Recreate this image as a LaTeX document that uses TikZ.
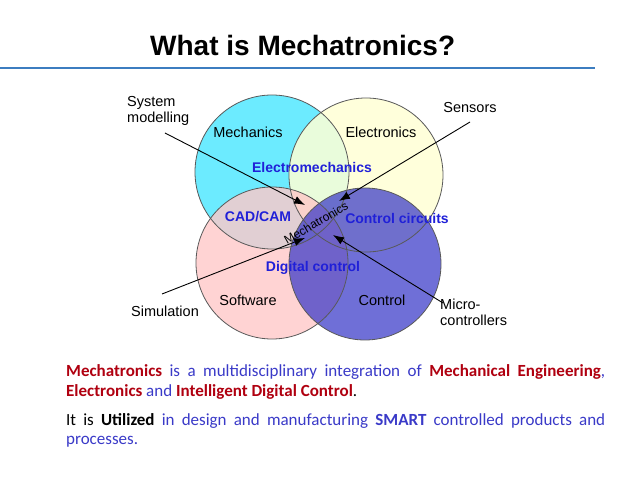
\documentclass[tikz,border=0pt]{standalone}
\usepackage{fontspec}
\setmainfont{Carlito}
\newfontfamily\arialf{Liberation Sans}
\usetikzlibrary{arrows.meta}
\definecolor{cyanc}{HTML}{6CEBFF}
\definecolor{yellowc}{HTML}{FFFFD5}
\definecolor{pinkc}{HTML}{FFC8C8}
\definecolor{bluec}{HTML}{3333C7}
\definecolor{lblblue}{HTML}{2020D8}
\definecolor{txtred}{HTML}{B00010}
\definecolor{txtblue}{HTML}{3A3AC8}
\definecolor{rulec}{HTML}{3C7DC0}
\begin{document}
\begin{tikzpicture}[x=1pt,y=-1pt,
  ring/.style={draw=black!65,line width=0.8pt},
  lbl/.style={font=\arialf\fontsize{14.5}{16}\selectfont,inner sep=0pt,text=black},
  blbl/.style={inner sep=0pt,font=\arialf\bfseries\fontsize{14}{16}\selectfont,text=lblblue},
  side/.style={lbl,align=left},
  pointer/.style={draw=black,line width=0.9pt,-{Latex[length=11pt,width=8pt]}},
  para/.style={anchor=base west,inner sep=0pt,font=\fontsize{17}{20}\selectfont}]
\useasboundingbox (0,0) rectangle (638,478);
\fill[white] (0,0) rectangle (638,478);
% title
\node[anchor=base west,inner sep=0pt,font=\arialf\bfseries\fontsize{28}{30}\selectfont] (title) at (150,56) {What is Mechatronics?};
\draw[rulec,line width=1.8pt] (0,68) -- (595,68);
% circles
\fill[cyanc] (272,172) circle (77);
\fill[yellowc,opacity=0.85] (366,175) circle (77);
\fill[pinkc,opacity=0.8] (272,263) circle (76);
\fill[bluec,opacity=0.7] (365,264) circle (76);
\draw[ring] (272,172) circle (77);
\draw[ring] (366,175) circle (77);
\draw[ring] (272,263) circle (76);
\draw[ring] (365,264) circle (76);
% labels in circles
\node[lbl] (mech) at (248,132) {Mechanics};
\node[lbl] (elec) at (381,132) {Electronics};
\node[blbl] (emech) at (312,167) {Electromechanics};
\node[blbl] (cadcam) at (258,217) {CAD/CAM};
\node[blbl] (ccirc) at (397,218) {Control circuits};
\node[blbl] (digc) at (313,268) {Digital control};
\node[lbl] (soft) at (248,300) {Software};
\node[lbl] (ctrl) at (382,300) {Control};
\node[lbl,font=\arialf\fontsize{12}{14}\selectfont,rotate=30] (mtr) at (316,223) {Mechatronics};
% side labels
\node[side,anchor=north west] (sysmod) at (127,96) {System\\modelling};
\node[lbl] (sens) at (470,108) {Sensors};
\node[lbl] (simu) at (165,311) {Simulation};
\node[side,anchor=north west] (micro) at (440,299) {Micro-\\controllers};
% arrows
\coordinate (s1) at (165,133);
\coordinate (t1) at (305,205);
\coordinate (s2) at (470,122);
\coordinate (t2) at (339,201);
\coordinate (s3) at (162,294);
\coordinate (t3) at (305,238);
\coordinate (s4) at (443,303);
\coordinate (t4) at (333,235);
\draw[pointer] (s1) -- (t1);
\draw[pointer] (s2) -- (t2);
\draw[pointer] (s3) -- (t3);
\draw[pointer] (s4) -- (t4);
% paragraph
\node[para] (p1) at (66,377) {\makebox[539pt][s]{\textcolor{txtred}{\textbf{Mechatronics}} \textcolor{txtblue}{is a multidisciplinary integration of} \textcolor{txtred}{\textbf{Mechanical Engineering}}\textcolor{txtblue}{,}}};
\node[para] (p2) at (66,397) {\textcolor{txtred}{\textbf{Electronics}} \textcolor{txtblue}{and} \textcolor{txtred}{\textbf{Intelligent Digital Control}}.};
\node[para] (p3) at (66,426) {\makebox[539pt][s]{It is \textbf{Utilized} \textcolor{txtblue}{in design and manufacturing \textbf{SMART} controlled products and}}};
\node[para] (p4) at (66,445) {\textcolor{txtblue}{processes.}};
\end{tikzpicture}
\end{document}
